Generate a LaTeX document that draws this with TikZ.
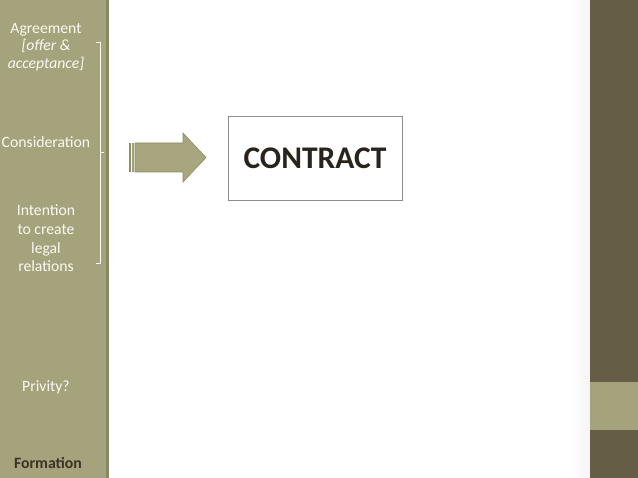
\documentclass[tikz,border=0pt]{standalone}
\usepackage{fontspec}
\setmainfont{Carlito}
\definecolor{olive}{HTML}{A5A37B}
\definecolor{oliveedge}{HTML}{8A8862}
\definecolor{darkstrip}{HTML}{665D46}
\definecolor{lighttext}{HTML}{FAF9F2}
\definecolor{darktext}{HTML}{3A3427}
\definecolor{arrowfill}{HTML}{A8A67E}
\definecolor{arrowedge}{HTML}{8E8C64}
\tikzset{
  side/.style={text=lighttext, font=\fontsize{15.7}{18.7}\selectfont, align=center, inner sep=0pt},
  brace/.style={draw=lighttext, line width=0.9pt},
}
\begin{document}
\begin{tikzpicture}[x=1pt,y=-1pt]
\useasboundingbox (0,0) rectangle (638,478);
\fill[white] (0,0) rectangle (638,478);
% shadow near right strip
\shade[left color=white, right color=black!4] (570,0) rectangle (590,478);
% left panel
\fill[olive] (0,0) rectangle (106,478);
\fill[oliveedge] (106,0) rectangle (109,478);
% right strip
\fill[darkstrip] (590,0) rectangle (638,478);
\fill[olive] (590,382) rectangle (638,430);
% side texts
\node[side, font=\fontsize{15.7}{17.5}\selectfont] (agr) at (46,47) {Agreement\\\textit{[offer \&}\\\textit{acceptance]}};
\node[side] (cons) at (46,142) {Consideration};
\node[side] (int) at (46,238.5) {Intention\\to create\\legal\\relations};
\node[side] (priv) at (46,387) {Privity?};
\node[side, text=darktext, font=\bfseries\fontsize{15.8}{18}\selectfont] (form) at (48,463) {Formation};
% bracket
\draw[brace] (96,42) -- (100,42) -- (100,263) -- (96,263);
\draw[brace] (100,152) -- (104,152);
% block arrow
\fill[arrowedge] (129,143) rectangle (131,172);
\fill[arrowedge!85] (132,143) rectangle (134,172);
\draw[arrowedge, fill=arrowfill, line width=0.6pt] (135,143) -- (183,143) -- (183,133) -- (206,157.5) -- (183,182) -- (183,172) -- (135,172) -- cycle;
% contract box
\node[draw=black!45, line width=0.8pt, minimum width=174, minimum height=84, inner sep=0pt,
      font=\bfseries\fontsize{31.5}{36}\selectfont, text=darktext!70!black] (contract) at (315,158) {CONTRACT};
\end{tikzpicture}
\end{document}
